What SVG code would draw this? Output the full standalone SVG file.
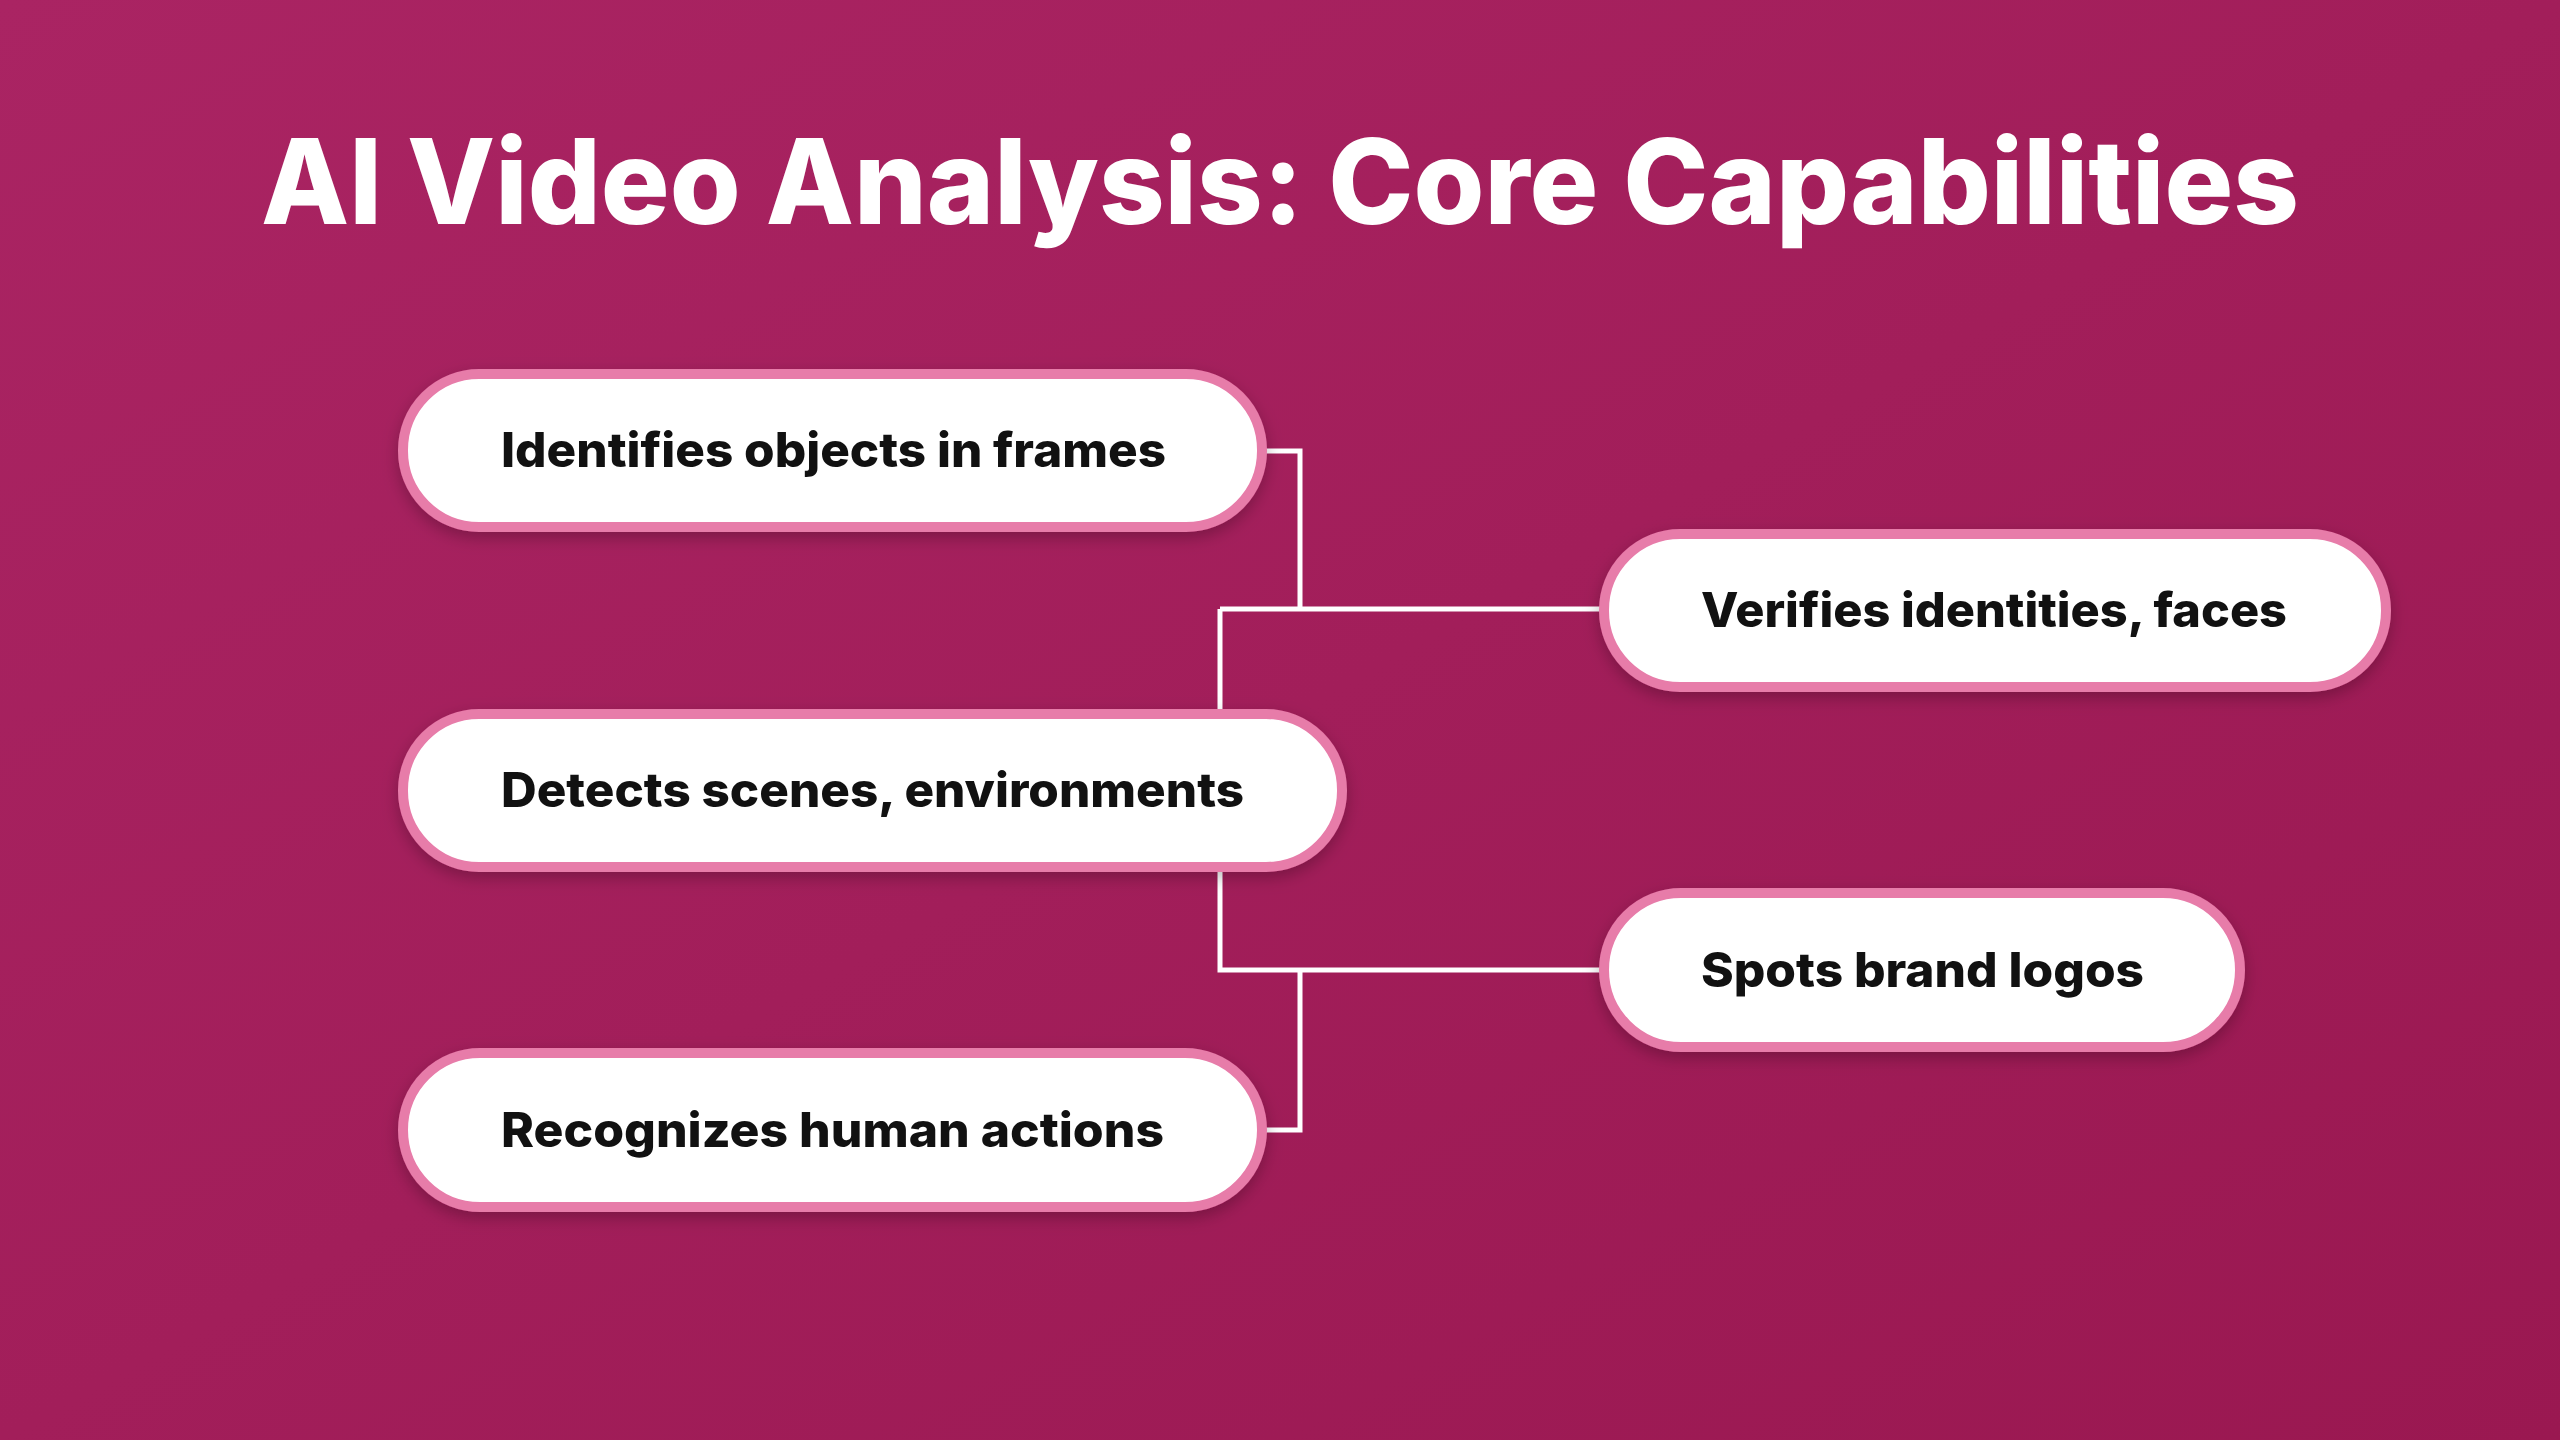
<svg xmlns="http://www.w3.org/2000/svg" width="2560" height="1440" viewBox="0 0 2560 1440">
<defs>
<linearGradient id="bg" x1="0" y1="0" x2="1" y2="1">
<stop offset="0" stop-color="#aa2463"/>
<stop offset="1" stop-color="#9a1851"/>
</linearGradient>
<filter id="sh" x="-10%" y="-20%" width="120%" height="150%">
<feDropShadow dx="0" dy="6" stdDeviation="8" flood-color="#000" flood-opacity="0.25"/>
</filter>
<style>
.pill{fill:#fff;stroke:#e77ba9;stroke-width:10;filter:url(#sh)}
.lbl{font-family:Inter,"Open Sans",sans-serif;font-weight:800;font-size:48px;fill:#111}
.con{fill:none;stroke:#fff;stroke-width:5}
</style>
</defs>
<rect width="2560" height="1440" fill="url(#bg)"/>
<text x="261" y="224" textLength="2038" lengthAdjust="spacingAndGlyphs" style="font-family:Inter,'Open Sans',sans-serif;font-weight:800;font-size:118px;fill:#fff">AI Video Analysis: Core Capabilities</text>
<g id="connectors">
<polyline class="con" points="1262,451 1300,451 1300,609"/>
<line class="con" x1="1220" y1="609" x2="1604" y2="609"/>
<line class="con" x1="1220" y1="609" x2="1220" y2="714"/>
<polyline class="con" points="1220,867 1220,970 1604,970"/>
<polyline class="con" points="1300,970 1300,1130 1262,1130"/>
</g>
<g id="n1"><rect class="pill" x="403" y="374" width="859" height="153" rx="76"/><text class="lbl" x="501" y="467" textLength="665" lengthAdjust="spacingAndGlyphs">Identifies objects in frames</text></g>
<g id="n2"><rect class="pill" x="403" y="714" width="939" height="153" rx="76"/><text class="lbl" x="501" y="807" textLength="743" lengthAdjust="spacingAndGlyphs">Detects scenes, environments</text></g>
<g id="n3"><rect class="pill" x="403" y="1053" width="859" height="154" rx="77"/><text class="lbl" x="501" y="1147" textLength="663" lengthAdjust="spacingAndGlyphs">Recognizes human actions</text></g>
<g id="n4"><rect class="pill" x="1604" y="534" width="782" height="153" rx="76"/><text class="lbl" x="1701" y="627" textLength="586" lengthAdjust="spacingAndGlyphs">Verifies identities, faces</text></g>
<g id="n5"><rect class="pill" x="1604" y="893" width="636" height="154" rx="77"/><text class="lbl" x="1701" y="987" textLength="443" lengthAdjust="spacingAndGlyphs">Spots brand logos</text></g>
</svg>
